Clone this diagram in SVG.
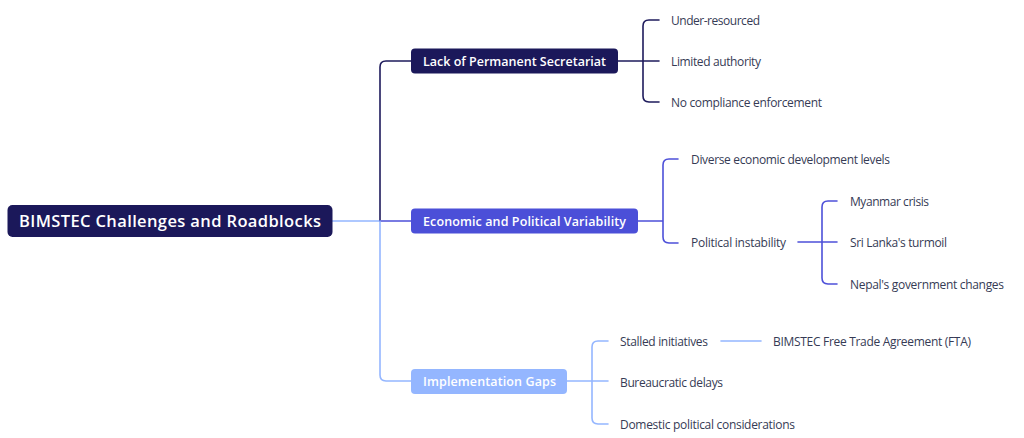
<svg xmlns="http://www.w3.org/2000/svg" width="1024" height="438" viewBox="0 0 1024 438">
<style>
.c{fill:none;stroke-width:1.6;stroke-linecap:round}
.n1{stroke:#1e1b5c}
.n2{stroke:#4d50d9}
.n3{stroke:#94b6ff}
.t{font-family:"Open Sans","Noto Sans","Liberation Sans",sans-serif;font-size:12px;fill:#363b55}
.h{font-family:"Open Sans","Noto Sans","Liberation Sans",sans-serif;font-weight:600;fill:#ffffff}
</style>
<rect width="1024" height="438" fill="#ffffff"/>
<g id="connectors">
<path class="c n3" d="M332,221 H380"/>
<path class="c n1" d="M380,221 V67 Q380,61 386,61 H411"/>
<path class="c n2" d="M380,221 H411"/>
<path class="c n3" d="M380,221 V375 Q380,381 386,381 H411"/>
<path class="c n1" d="M618,61 H659 M659,20 H649 Q643,20 643,26 V96 Q643,102 649,102 H659"/>
<path class="c n2" d="M638,221 H663 M678,159 H669 Q663,159 663,165 V237 Q663,243 669,243 H678"/>
<path class="c n2" d="M798,242 H837 M837,201 H828 Q822,201 822,207 V278 Q822,284 828,284 H837"/>
<path class="c n3" d="M567,381 H608 M608,341 H598 Q592,341 592,347 V418 Q592,424 598,424 H608"/>
<path class="c n3" d="M721,341 H761"/>
</g>
<g id="root">
<rect x="7.5" y="205" width="325" height="32" rx="5" fill="#1b185a"/>
<text class="h" x="19" y="227" font-size="16.5" textLength="302">BIMSTEC Challenges and Roadblocks</text>
</g>
<g id="node-secretariat">
<rect x="411" y="48.5" width="207" height="25" rx="4" fill="#1b185a"/>
<text class="h" x="423" y="65.5" font-size="12.5" textLength="183">Lack of Permanent Secretariat</text>
</g>
<g id="node-variability">
<rect x="411" y="208.5" width="227" height="25" rx="4" fill="#4b4fd8"/>
<text class="h" x="423" y="225.5" font-size="12.5" textLength="203">Economic and Political Variability</text>
</g>
<g id="node-implementation">
<rect x="411" y="369" width="156" height="25" rx="4" fill="#94b6ff"/>
<text class="h" x="423" y="386" font-size="12.5" textLength="133">Implementation Gaps</text>
</g>
<g id="leaf-under-resourced"><text class="t" x="671" y="24.5" textLength="89">Under-resourced</text></g>
<g id="leaf-limited-authority"><text class="t" x="671" y="65.5" textLength="90">Limited authority</text></g>
<g id="leaf-no-compliance"><text class="t" x="671" y="106.5" textLength="151">No compliance enforcement</text></g>
<g id="leaf-diverse"><text class="t" x="691" y="163.5" textLength="199">Diverse economic development levels</text></g>
<g id="leaf-political-instability"><text class="t" x="691" y="246.5" textLength="95">Political instability</text></g>
<g id="leaf-myanmar"><text class="t" x="850" y="205.5" textLength="79">Myanmar crisis</text></g>
<g id="leaf-srilanka"><text class="t" x="850" y="246.5" textLength="97">Sri Lanka's turmoil</text></g>
<g id="leaf-nepal"><text class="t" x="850" y="288.5" textLength="154">Nepal's government changes</text></g>
<g id="leaf-stalled"><text class="t" x="620" y="345.5" textLength="88">Stalled initiatives</text></g>
<g id="leaf-fta"><text class="t" x="773" y="345.5" textLength="198">BIMSTEC Free Trade Agreement (FTA)</text></g>
<g id="leaf-bureaucratic"><text class="t" x="620" y="386.5" textLength="103">Bureaucratic delays</text></g>
<g id="leaf-domestic"><text class="t" x="620" y="428.5" textLength="175">Domestic political considerations</text></g>
</svg>
